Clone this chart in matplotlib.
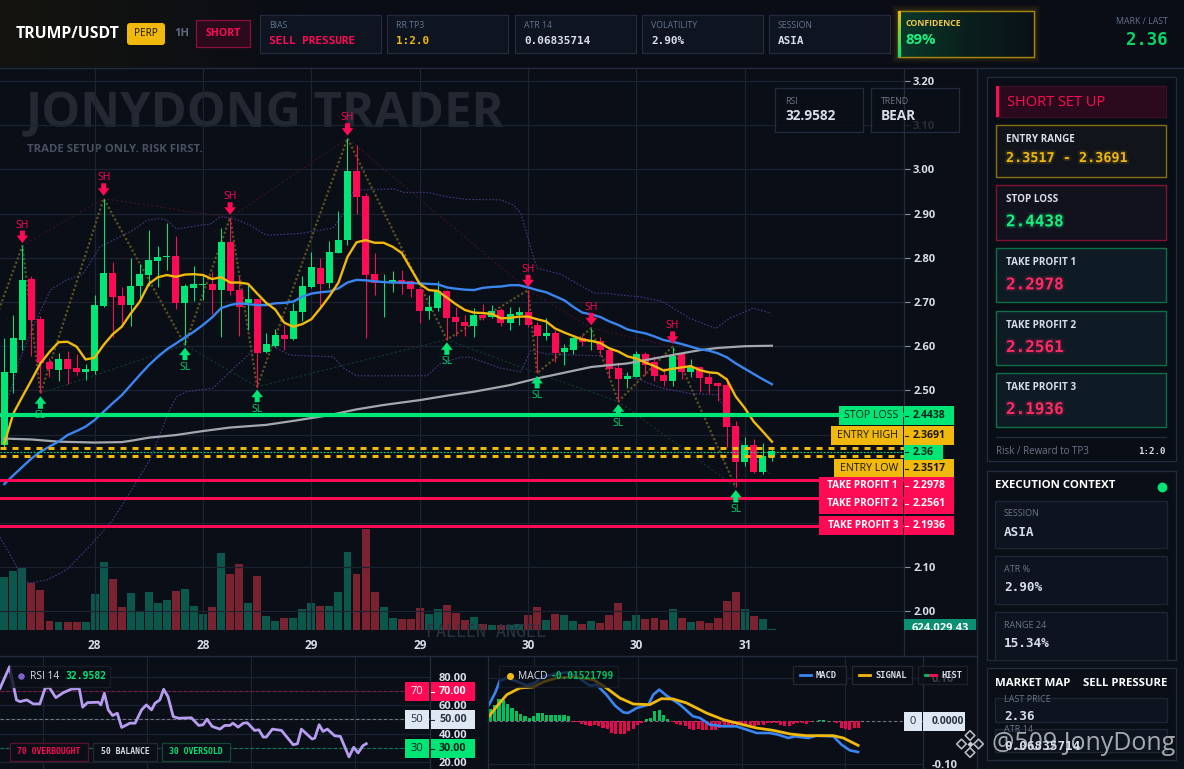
import numpy as np
import matplotlib
matplotlib.use("Agg")
import matplotlib.pyplot as plt
from matplotlib.patches import Rectangle, FancyBboxPatch
from matplotlib.colors import LinearSegmentedColormap
import matplotlib.patheffects as pe

W, H = 1184, 769

# candles, 1H
opens = [2.376,2.540,2.614,2.752,2.661,2.564,2.546,2.571,2.551,2.542,2.544,2.691,2.765,2.713,2.693,2.736,2.760,2.793,2.801,2.804,2.698,2.732,2.738,2.741,2.727,2.836,2.727,2.698,2.707,2.587,2.600,2.625,2.616,2.677,2.734,2.777,2.743,2.811,2.840,2.996,2.940,2.763,2.743,2.743,2.750,2.747,2.729,2.679,2.686,2.725,2.666,2.655,2.646,2.670,2.665,2.682,2.652,2.670,2.677,2.648,2.623,2.630,2.587,2.591,2.618,2.610,2.612,2.592,2.551,2.526,2.531,2.583,2.565,2.535,2.521,2.583,2.542,2.552,2.530,2.517,2.512,2.420,2.338,2.377,2.315,2.350]
closes = [2.541,2.618,2.750,2.659,2.562,2.548,2.571,2.548,2.541,2.548,2.693,2.765,2.711,2.693,2.736,2.763,2.795,2.802,2.804,2.698,2.736,2.741,2.741,2.727,2.836,2.725,2.689,2.707,2.585,2.605,2.625,2.616,2.679,2.736,2.779,2.741,2.813,2.840,2.996,2.937,2.761,2.743,2.744,2.750,2.741,2.730,2.679,2.689,2.725,2.664,2.655,2.646,2.670,2.664,2.679,2.652,2.673,2.677,2.648,2.623,2.630,2.585,2.596,2.618,2.609,2.613,2.592,2.549,2.526,2.533,2.583,2.558,2.533,2.521,2.578,2.542,2.552,2.528,2.515,2.510,2.417,2.338,2.377,2.315,2.352,2.362]
highs = [2.618,2.670,2.827,2.759,2.668,2.574,2.584,2.589,2.582,2.560,2.716,2.934,2.790,2.735,2.799,2.787,2.863,2.827,2.878,2.849,2.741,2.781,2.763,2.768,2.867,2.891,2.759,2.744,2.707,2.629,2.638,2.648,2.697,2.759,2.813,2.799,2.838,2.906,3.070,3.055,2.946,2.810,2.763,2.770,2.772,2.750,2.731,2.716,2.747,2.727,2.689,2.670,2.686,2.695,2.693,2.686,2.688,2.689,2.727,2.655,2.663,2.637,2.606,2.621,2.625,2.641,2.620,2.599,2.565,2.542,2.589,2.586,2.578,2.550,2.599,2.583,2.571,2.554,2.539,2.520,2.527,2.431,2.394,2.390,2.380,2.367]
lows = [2.370,2.493,2.591,2.578,2.493,2.531,2.522,2.514,2.535,2.523,2.537,2.689,2.621,2.648,2.646,2.704,2.736,2.733,2.772,2.684,2.603,2.702,2.704,2.673,2.621,2.716,2.623,2.637,2.508,2.585,2.599,2.591,2.614,2.658,2.731,2.689,2.731,2.810,2.829,2.900,2.618,2.716,2.667,2.723,2.719,2.712,2.653,2.662,2.680,2.615,2.623,2.623,2.621,2.659,2.663,2.646,2.637,2.648,2.643,2.539,2.614,2.565,2.557,2.582,2.600,2.592,2.580,2.528,2.475,2.506,2.530,2.535,2.521,2.509,2.510,2.526,2.530,2.496,2.495,2.475,2.373,2.281,2.329,2.313,2.311,2.340]
# volume in millions
volume = [22.1,24.6,26.3,19.6,16.7,3.8,3.3,3.3,3.3,3.3,15.0,28.4,21.3,9.6,15.4,7.9,15.8,11.3,12.5,16.3,17.1,10.0,6.7,9.6,32.1,23.4,27.5,11.3,22.5,5.8,3.8,5.0,5.0,8.8,11.3,10.0,10.0,15.8,32.5,23.4,42.1,15.8,9.6,5.0,4.6,4.6,9.2,6.7,8.8,10.4,7.1,4.2,5.4,2.5,2.1,2.1,1.9,2.5,6.3,9.6,4.2,6.7,6.3,3.8,2.5,3.8,2.9,6.3,11.3,3.8,6.3,4.6,5.0,4.2,8.8,5.0,3.3,3.8,2.9,5.0,12.1,15.8,8.8,5.8,4.6,0.62]

ema_fast = [2.380,2.448,2.486,2.523,2.561,2.587,2.609,2.610,2.599,2.570,2.574,2.603,2.627,2.644,2.674,2.701,2.741,2.756,2.761,2.757,2.762,2.763,2.761,2.752,2.756,2.744,2.744,2.741,2.719,2.698,2.683,2.653,2.644,2.650,2.661,2.686,2.713,2.744,2.802,2.835,2.840,2.834,2.834,2.825,2.811,2.776,2.741,2.727,2.725,2.710,2.695,2.682,2.676,2.675,2.673,2.663,2.664,2.667,2.667,2.661,2.656,2.640,2.631,2.623,2.615,2.612,2.607,2.595,2.588,2.577,2.572,2.563,2.555,2.545,2.549,2.552,2.555,2.546,2.541,2.539,2.525,2.486,2.460,2.429,2.407,2.384]
ema_slow = [2.288,2.308,2.327,2.346,2.361,2.373,2.384,2.399,2.408,2.418,2.433,2.452,2.471,2.489,2.512,2.535,2.557,2.576,2.593,2.606,2.620,2.633,2.648,2.665,2.686,2.693,2.697,2.695,2.693,2.693,2.697,2.698,2.701,2.712,2.719,2.722,2.724,2.731,2.744,2.750,2.749,2.747,2.745,2.744,2.744,2.743,2.742,2.741,2.740,2.733,2.730,2.728,2.727,2.732,2.734,2.735,2.738,2.738,2.733,2.727,2.722,2.713,2.704,2.689,2.676,2.672,2.666,2.656,2.648,2.638,2.633,2.629,2.622,2.614,2.610,2.605,2.599,2.593,2.590,2.584,2.575,2.561,2.549,2.537,2.525,2.514]
ma_long_i = [0,3,6,10,13,14,16,19,22,25,29,32,36,39,42,46,49,52,56,59,62,65,69,74,77,79,82,85]
ma_long = [2.391,2.389,2.384,2.382,2.383,2.386,2.393,2.399,2.408,2.416,2.422,2.431,2.444,2.457,2.467,2.478,2.488,2.497,2.512,2.527,2.540,2.553,2.561,2.580,2.591,2.596,2.600,2.601]

bb_up_i = [-0.5,0.6,1.7,3.2,5.1,6.9,8.7,10.6,12.1,14.3,15.8,17.2,18,19.1,21.7,22.8,23.9,25.4,27.2,29,32.7,36.4,37.6,38.7,43.1,44.2,46.8,49,51.3,55,56.4,57.2,58.7,59,61.6,65.3,66.6,68.1,70.3,72.9,75.9,78.8,80.3,82.9,84.9]
bb_up = [2.433,2.493,2.569,2.644,2.727,2.750,2.763,2.825,2.840,2.863,2.885,2.889,2.885,2.865,2.874,2.876,2.893,2.889,2.874,2.851,2.855,2.867,2.901,2.953,2.956,2.948,2.948,2.938,2.932,2.931,2.919,2.901,2.795,2.776,2.763,2.720,2.720,2.716,2.712,2.701,2.663,2.640,2.663,2.686,2.675]
bb_lo_i = [-0.5,1,2,2.8,4.7,6.9,9.8,12,13.4,16.1,18.3,19.1,20.2,23.1,25.4,27.6,29.8,31.6,32.7,36.4,37.6,39,46.8,48.3,50.5,51.6,55,57.2,58.3,60.1,66.1,68.4,70.3,72.9,75.9,79,80,81,84.7]
bb_lo = [2.168,2.116,2.071,2.064,2.071,2.094,2.155,2.207,2.252,2.342,2.456,2.486,2.497,2.505,2.550,2.591,2.599,2.580,2.579,2.576,2.550,2.533,2.533,2.561,2.575,2.575,2.550,2.542,2.591,2.582,2.578,2.539,2.524,2.505,2.493,2.490,2.448,2.395,2.312]

sh_idx = [2, 11, 25, 38, 58, 65, 74]
sl_idx = [4, 20, 28, 49, 59, 68, 81]
zz_start_i, zz_start = -1, 2.66

ticks_price = [3.20,3.10,3.00,2.90,2.80,2.70,2.60,2.50,2.40,2.30,2.20,2.10,2.00]
hidden_price = [2.40, 2.30, 2.20]
date_idx = [10,22,34,46,58,70,82]
date_lab = ["28","28","29","29","30","30","31"]

stop_loss = 2.4438
entry_high = 2.3691
entry_low = 2.3517
last_price = 2.36
tp1, tp2, tp3 = 2.2978, 2.2561, 2.1936

rsi_t = [0,2.2,3.8,4.6,6.2,7.7,9.2,10.4,11.4,12.9,14.6,16.5,18.3,19.1,20.2,22.7,23.3,24.1,25,26,27.1,28.1,30,31.2,32.7,33.8,35,35.8,36.9,37.8,38.8,40,41.2,44.2,45.9,46.9,47.8,49,50.8,51.9,53.1,53.8,55,56.2,57.1,58.8,59.8,60.8,61.5,62.9,65,67.7,68.7,69.6,72.1,72.7,73.7,74.6,75.6,77.3,78.6,80.6,81.7,82.7,83.8,84.6]
rsi = [72.0,87.2,63.8,62.6,63.8,61.0,61.0,72.0,72.5,65.4,68.9,71.5,71.8,58.7,61.9,62.2,60.3,68.5,56.8,52.8,54.4,44.4,47.4,47.4,56.8,60.3,56.8,61.5,63.8,71.3,66.1,52.1,50.9,51.2,45.8,46.3,50.2,45.1,43.2,45.8,45.8,47.4,44.6,47.4,47.7,42.3,42.7,37.6,37.6,43.2,42.3,32.2,32.9,43.2,36.2,36.9,46.3,41.6,43.2,38.5,38.1,23.6,30.4,26.4,31.5,32.9]
rsi_ticks = [80,70,60,50,40,30,20]
rsi_tagged = [70,50,30]

# macd values in 1e-3
hist = [27.1,36.4,50.4,48.1,38.8,29.5,22.5,15.5,10.9,6.2,10.9,18.6,18.6,14.0,13.2,13.2,13.2,13.2,10.9,-1.6,-2.3,-7.8,-10.1,-11.6,-8.5,-11.6,-17.1,-19.4,-27.9,-31.0,-31.0,-31.0,-24.0,-18.6,-8.5,-4.7,3.9,7.0,22.5,24.8,13.2,3.9,-2.3,-7.0,-8.5,-11.6,-18.6,-20.2,-18.6,-20.2,-20.2,-20.2,-20.2,-17.1,-14.0,-14.0,-11.6,-10.1,-9.3,-8.5,-8.5,-10.9,-10.1,-8.5,-4.7,-3.9,-3.9,-9.3,-10.9,-10.9,-6.2,-3.9,-4.7,-6.2,-2.3,-0.8,3.1,2.3,-0.8,-0.8,-5.4,-15.5,-18.6,-20.2,-17.1,-15.5]
macd_k = [-0.3,1.1,2.2,3.8,6.1,8.4,10.3,12.2,14.5,17.6,19.9,23,24.5,26.8,28.8,30.7,31.8,33.8,36.5,37.6,39,40.7,43.8,46.8,48.4,50.7,53.8,56.8,59.2,61.5,64.5,66.5,68.8,70.3,73.4,75.3,79.2,81.1,83,84.9]
macd = [38,65.1,93.8,100,92.2,82.9,88.4,103.9,107.7,113.2,103.9,82.2,84.5,61.2,35.7,20.2,18.6,30.2,38,61.2,72.9,58.9,38,10.9,7,-8.5,-12.4,-12.4,-20.2,-27.9,-27.9,-31.8,-39.5,-35.7,-39.5,-34.1,-35.7,-55,-68.2,-72.1]
signal_k = [-0.3,1.5,3.8,6.8,9.9,12.2,15.3,19.2,23.8,26.8,29.9,33,36.8,39.5,42.2,45.3,49.9,53.8,56.8,61.5,65.3,69.2,73,79.2,81.5,84.9]
signal = [10.9,34.1,61.2,76.7,79.1,90.7,100,102.3,96.1,76.7,53.5,39.5,38,51.9,51.2,41.9,18.6,3.1,-4.7,-16.3,-21.7,-30.2,-34.1,-34.1,-39.5,-56.6]

BG = "#0a0e17"
HEAD = "#0a0d15"
SIDE = "#0b101a"
GRID = "#1c2230"
BORDER = "#232c3d"
GREEN = "#00e676"
RED = "#ff0a54"
YEL = "#f0b90b"
BLUE = "#3a86f0"
TXT = "#d8dee9"
DIM = "#6b7688"
SANS = ["Open Sans", "DejaVu Sans"]
MONO = ["DejaVu Sans Mono"]

plt.rcParams["font.family"] = SANS
fig = plt.figure(figsize=(W / 100, H / 100), dpi=100, facecolor=BG)


def pane(x0, y0, x1, y1, z=1):
    return fig.add_axes([x0 / W, 1 - y1 / H, (x1 - x0) / W, (y1 - y0) / H], zorder=z)


def style(a):
    a.set_facecolor(BG)
    for s in a.spines.values():
        s.set_visible(False)
    a.grid(True, color=GRID, lw=0.9)
    a.set_axisbelow(True)


# volume sits behind the price axes
vol = pane(0, 68, 904, 630, 1)
ax = pane(0, 68, 904, 630, 2)
vol.set_facecolor(BG)
ax.set_facecolor("none")
for a in (vol, ax):
    for s in a.spines.values():
        s.set_visible(False)
x = np.arange(len(opens))
xlim = (-0.48, 99.63)
ylim = (1.9579, 3.2294)

o, c, hi, lo = map(np.array, (opens, closes, highs, lows))
up = c >= o
vol.bar(x, volume, width=0.88, color=np.where(up, "#0b574c", "#7a2230"), linewidth=0)
vol.set_xlim(xlim)
vol.set_ylim(0, 234.4)
vol.set_xticks([])
vol.set_yticks([])

ax.set_xlim(xlim)
ax.set_ylim(ylim)
ax.yaxis.tick_right()
ax.set_yticks(ticks_price)
ax.set_yticklabels(["" if p in hidden_price else f"{p:.2f}" for p in ticks_price],
                   fontsize=8.0, fontweight="bold", color=TXT)
ax.tick_params(axis="y", length=4, width=0.8, color="#8a93a3", pad=2.5)
ax.set_xticks(date_idx)
ax.set_xticklabels(date_lab, fontsize=8.5, fontweight="bold", color=TXT)
ax.tick_params(axis="x", length=0, pad=6.5)
ax.grid(True, color=GRID, lw=0.9)
ax.set_axisbelow(True)

# moving bands and swing lines under the candles
ax.plot(bb_up_i, bb_up, color="#463880", lw=0.8, ls=(0, (1.5, 1.5)), zorder=2)
ax.plot(bb_lo_i, bb_lo, color="#463880", lw=0.8, ls=(0, (1.5, 1.5)), zorder=2)
ax.plot(sh_idx, hi[sh_idx], color="#3d1228", lw=0.8, ls=(0, (2, 2)), zorder=2)
ax.plot(sl_idx, lo[sl_idx], color="#0f3b30", lw=0.8, ls=(0, (2, 2)), zorder=2)
pivots = sorted([(i, hi[i]) for i in sh_idx] + [(i, lo[i]) for i in sl_idx])
zz_x = [zz_start_i] + [p[0] for p in pivots]
zz_y = [zz_start] + [p[1] for p in pivots]
ax.plot(zz_x, zz_y, color="#5c5120", lw=1.6, ls=(0, (1, 1)), zorder=2.2)

candle_col = np.where(up, GREEN, RED)
ax.vlines(x, lo, hi, colors=candle_col, lw=0.75, zorder=3)
ax.bar(x, np.maximum(np.abs(c - o), 0.003), bottom=np.minimum(o, c), width=0.775,
       color=candle_col, linewidth=0, zorder=3.2)

ax.plot(ma_long_i, ma_long, color="#a3a7ae", lw=1.6, zorder=4)
ax.plot(x, ema_slow, color=BLUE, lw=1.7, zorder=4.1)
ax.plot(x, ema_fast, color=YEL, lw=1.7, zorder=4.2)

# levels
ax.axhline(stop_loss, color=GREEN, lw=3.0, zorder=5)
for p in (tp1, tp2, tp3):
    ax.axhline(p, color=RED, lw=2.16, zorder=5)
for p in (entry_high, entry_low):
    ax.axhline(p, color=YEL, lw=2.16, ls=(0, (2, 2)), zorder=5)
ax.axhline(last_price, color=GREEN, lw=0.8, ls=(0, (1.5, 1.5)), zorder=5)

# swing markers
for i in sh_idx:
    ax.annotate("", xy=(i, hi[i]), xytext=(0, 11), textcoords="offset points",
                arrowprops=dict(arrowstyle="simple,head_width=0.7,head_length=0.45,tail_width=0.3",
                                color=RED, shrinkA=0, shrinkB=2, mutation_scale=12, lw=0), zorder=6)
    ax.annotate("SH", xy=(i, hi[i]), xytext=(0, 15), textcoords="offset points", ha="center",
                va="center", fontsize=7.6, color=RED, zorder=6)
for i in sl_idx:
    ax.annotate("", xy=(i, lo[i]), xytext=(0, -11), textcoords="offset points",
                arrowprops=dict(arrowstyle="simple,head_width=0.7,head_length=0.45,tail_width=0.3",
                                color=GREEN, shrinkA=0, shrinkB=2, mutation_scale=12, lw=0), zorder=6)
    ax.annotate("SL", xy=(i, lo[i]), xytext=(0, -16), textcoords="offset points", ha="center",
                va="center", fontsize=7.6, color="#00d26a", zorder=6)

# RSI pane
r = pane(0, 657, 430, 769, 3)
style(r)
r.set_xlim(0, 430 / 4.33)
r.set_ylim(15.07, 94.1)
r.yaxis.tick_right()
r.set_yticks(rsi_ticks)
r.set_yticklabels(["" if v in rsi_tagged else f"{v:.2f}" for v in rsi_ticks],
                  fontsize=8.0, fontweight="bold", color=TXT)
r.tick_params(axis="y", length=0, pad=6)
r.set_xticks([10, 34, 58, 82])
r.set_xticklabels([])
r.tick_params(axis="x", length=0)
r.axhline(70, color="#7d1a40", lw=0.8, ls=(0, (3, 2)))
r.axhline(50, color="#6d7482", lw=0.8, ls=(0, (3, 2)))
r.axhline(30, color="#0f7a4c", lw=0.8, ls=(0, (3, 2)))
r.plot(rsi_t, rsi, color="#b79df0", lw=2.0, solid_joinstyle="round")

# MACD pane
m = pane(488, 657, 923, 769, 3)
style(m)
m.set_xlim(-0.54, 99.9)
m.set_ylim(-111.6, 148.8)
m.yaxis.tick_right()
m.set_yticks([100, -100])
m.set_yticklabels(["0.10", "-0.10"], fontsize=8.0, fontweight="bold", color=TXT)
m.tick_params(axis="y", length=0, pad=6)
m.set_xticks([10, 34, 58, 82])
m.set_xticklabels([])
m.tick_params(axis="x", length=0)
m.axhline(0, color="#6d7482", lw=0.8, ls=(0, (3, 2)))
k = np.arange(len(hist))
m.bar(k, hist, width=0.72, color=np.where(np.array(hist) >= 0, "#00c060", "#e8084f"), linewidth=0, zorder=2)
m.plot(macd_k, macd, color=BLUE, lw=1.9, zorder=3)
m.plot(signal_k, signal, color=YEL, lw=2.0, zorder=4)

# chrome overlay in pixel coords
ov = fig.add_axes([0, 0, 1, 1], zorder=10)
ov.set_facecolor("none")
ov.set_xlim(0, W)
ov.set_ylim(H, 0)
ov.axis("off")


def box(x0, y0, x1, y1, fc="none", ec="none", lw=0.9, alpha=None, z=1):
    ov.add_patch(Rectangle((x0, y0), x1 - x0, y1 - y0, fc=fc, ec=ec, lw=lw, alpha=alpha, zorder=z))


def txt(x, y, s, size=7, color=TXT, mono=False, bold=False, ha="left", z=5, **kw):
    return ov.text(x, y, s, fontsize=size, color=color, family=MONO if mono else SANS,
                   fontweight="bold" if bold else "normal", ha=ha, va="center", zorder=z, **kw)


def glow(t, color, w=3, a=0.25):
    t.set_path_effects([pe.withStroke(linewidth=w, foreground=color, alpha=a)])


# header
grad = LinearSegmentedColormap.from_list("h", ["#15140f", HEAD])
ov.imshow(np.linspace(0, 1, 256)[None, :], extent=(0, 300, 67, 0), cmap=grad, aspect="auto", zorder=0)
box(300, 0, W, 67, fc=HEAD, z=0)
ov.plot([0, W], [67.5, 67.5], color=BORDER, lw=1, zorder=1)
ov.set_xlim(0, W)
ov.set_ylim(H, 0)
txt(16, 34, "TRUMP/USDT", 11.3, "white", bold=True)
ov.add_patch(FancyBboxPatch((127, 23), 38, 22, boxstyle="round,pad=0,rounding_size=3", fc=YEL, ec="none", zorder=2))
txt(146, 34, "PERP", 7.2, "#151515", ha="center")
txt(174, 34, "1H", 8, "#5b6b84", bold=True)
box(196, 20, 250, 47, fc="#2b0a1c", ec="#8c0f3c")
txt(223, 34, "SHORT", 7.6, RED, ha="center", bold=True)

cards = [(260, "BIAS", "SELL PRESSURE", RED), (387, "RR TP3", "1:2.0", YEL),
         (515, "ATR 14", "0.06835714", TXT), (642, "VOLATILITY", "2.90%", TXT),
         (769, "SESSION", "ASIA", TXT)]
for cx, lab, val, col in cards:
    box(cx, 15, cx + 120.5, 53, fc="#0e1420", ec=BORDER)
    txt(cx + 9, 26, lab, 6.3, "#64748f")
    txt(cx + 9, 40.5, val, 7.9, col, mono=True, bold=True)

# confidence card
for g, a in ((6, 0.03), (4, 0.05), (2, 0.07)):
    box(898 - g, 11 - g, 1034 + g, 57 + g, fc=YEL, alpha=a, z=1)
cf = LinearSegmentedColormap.from_list("c", ["#0a3a2a", "#09201c", "#0a1118"])
ov.imshow(np.linspace(0, 1, 256)[None, :], extent=(898, 1034, 57, 11), cmap=cf, aspect="auto", zorder=2)
ov.set_xlim(0, W)
ov.set_ylim(H, 0)
box(898, 11, 1034, 57, ec="#a8860e", lw=1, z=3)
bar = LinearSegmentedColormap.from_list("b", [YEL, GREEN])
ov.imshow(np.linspace(0, 1, 64)[:, None], extent=(898, 901, 57, 11), cmap=bar, aspect="auto", zorder=3)
ov.set_xlim(0, W)
ov.set_ylim(H, 0)
txt(906, 23, "CONFIDENCE", 6.3, "#f3c94a", bold=True)
txt(906, 40, "89%", 10.7, "#19f080", bold=True)
txt(1167.5, 22, "MARK / LAST", 6.3, "#64748f", ha="right")
txt(1167.5, 40, "2.36", 12.4, "#00d86a", mono=True, bold=True, ha="right")

# watermarks stay behind the candles
vol.text(26, 115, "JONYDONG TRADER", fontsize=35.2, color="#232833", fontweight="bold", va="center",
         transform=ov.transData, clip_on=False, zorder=5)
vol.text(27, 149, "TRADE SETUP ONLY. RISK FIRST.", fontsize=8.2, color="#4a5060", fontweight="bold", va="center",
         transform=ov.transData, clip_on=False, zorder=5)
txt(426, 632, "FALLEN ANGEL", 12, "#2c3340", mono=True, z=0.5)

# small stat boxes over the chart
for x0, x1, lab, val in ((775, 863, "RSI", "32.9582"), (871, 959, "TREND", "BEAR")):
    box(x0, 88, x1, 131.5, fc=BG, alpha=0.85)
    box(x0, 88, x1, 131.5, ec=BORDER)
    txt(x0 + 10, 101, lab, 6.3, DIM)
    txt(x0 + 10, 116, val, 9.8, TXT, bold=True)

# axis borders
ov.plot([904, 904], [68, 656], color=BORDER, lw=0.9, zorder=1)
ov.plot([0, 977], [656, 656], color=BORDER, lw=1, zorder=1)
ov.plot([430, 430], [657, 769], color=BORDER, lw=0.9, zorder=1)
ov.plot([488, 488], [657, 769], color=BORDER, lw=0.9, zorder=1)
ov.plot([923, 923], [657, 769], color=BORDER, lw=0.9, zorder=1)

# price tags
tags = [("STOP LOSS", stop_loss, 415.5, 839, GREEN, "#06251a"),
        ("ENTRY HIGH", entry_high, 435.5, 831, YEL, "#1c1703"),
        ("ENTRY LOW", entry_low, 468.5, 834, YEL, "#1c1703"),
        ("TAKE PROFIT 1", tp1, 486, 819, RED, "white"),
        ("TAKE PROFIT 2", tp2, 504, 819, RED, "white"),
        ("TAKE PROFIT 3", tp3, 525.5, 819, RED, "white")]
for name, val, yc, left, col, tc in tags:
    box(left, yc - 9.5, 903.2, yc + 9.5, fc=col, z=3)
    box(904.3, yc - 9.5, 954, yc + 9.5, fc=col, z=3)
    txt(898, yc, name, 7.2 if tc == "white" else 7.7, tc, ha="right", bold=tc == "white")
    txt(913, yc, f"{val:.4f}", 7.6, tc, bold=True)
    ov.plot([904.5, 908], [yc, yc], color=tc, lw=0.8, zorder=4)
box(904.3, 445, 943, 460, fc=GREEN, z=3)
txt(913, 452.3, f"{last_price:.2f}", 7.6, "#06251a", bold=True)
ov.plot([904.5, 908], [452.3, 452.3], color="#06251a", lw=0.8, zorder=4)

# volume last tag, clipped by the pane edge
box(904, 619, 976, 630, fc="#0a8f72", z=3)
vt = txt(940, 628, "624,029.43", 8, "white", ha="center", bold=True)
vt.set_clip_path(Rectangle((904, 619), 72, 11, transform=ov.transData))
vt.set_clip_on(True)

# RSI legend and level tags
box(10, 666, 110, 687, fc=BG, ec="#1c2230", alpha=0.8, z=2)
ov.scatter([21], [676], s=22, color="#7e62c8", zorder=4, linewidths=0)
txt(30, 676.5, "RSI 14", 7.4, TXT)
txt(65, 676, "32.9582", 7, GREEN, mono=True, bold=True)
for x0, x1, lab, col, ec in ((10, 88, "70 OVERBOUGHT", RED, "#5a1230"), (93, 157, "50 BALANCE", TXT, "#232833"),
                             (162, 230, "30 OVERSOLD", GREEN, "#0e4a34")):
    box(x0, 743, x1, 761, fc=BG, ec=ec, z=2)
    txt((x0 + x1) / 2, 752, lab, 5.9, col, mono=True, bold=True, ha="center")
for lvl, yc, col, tc in ((70, 691.5, RED, "white"), (50, 719.5, "#dfe7f2", "#2a3140"), (30, 748.5, GREEN, "#06251a")):
    box(405, yc - 9.5, 429, yc + 9.5, fc=col, z=3)
    box(430.5, yc - 9.5, 475, yc + 9.5, fc=col, z=3)
    txt(417, yc, str(lvl), 8, tc, ha="center")
    txt(439, yc, f"{lvl:.2f}", 7.7, tc, bold=True)
    ov.plot([431, 434], [yc, yc], color=tc, lw=0.8, zorder=4)

# MACD legend and tags
box(499, 666, 618, 687, fc=BG, ec="#1c2230", alpha=0.72, z=2)
ov.scatter([510], [676], s=26, color=YEL, zorder=4, linewidths=0)
txt(518, 676.5, "MACD", 7.4, TXT)
txt(551, 676, "-0.01521799", 6.9, "#00c060", mono=True, bold=True)
box(793, 666, 846, 684, fc=BG, ec="#232833", z=2)
ov.plot([800, 811], [675, 675], color=BLUE, lw=2, zorder=4)
txt(816, 675, "MACD", 6.3, TXT, mono=True, bold=True)
box(852, 666, 912, 684, fc=BG, ec="#232833", z=2)
ov.plot([859, 870], [675, 675], color=YEL, lw=2, zorder=4)
txt(875, 675, "SIGNAL", 6.3, TXT, mono=True, bold=True)
box(918, 666, 967, 684, fc=BG, ec="#232833", alpha=0.75, z=2)
ov.plot([925, 930], [675, 675], color="#00c060", lw=2, zorder=4)
ov.plot([930, 936], [675, 675], color=RED, lw=2, zorder=4)
txt(941, 675, "HIST", 6.3, TXT, mono=True, bold=True)
box(904, 712, 922, 731, fc="#dfe7f2", z=3)
box(923, 712, 965, 731, fc="#dfe7f2", z=3)
txt(913, 721.5, "0", 8, "#2a3140", ha="center")
txt(932, 721.5, "0.0000", 7.4, "#2a3140", bold=True)

# right column
box(977, 68, W, H, fc=SIDE, z=0.5)
ov.plot([977, 977], [68, H], color=BORDER, lw=0.9, zorder=1)
box(986.5, 76.5, 1175.5, 461, fc="#090d15", ec=BORDER)
box(996, 86, 1166, 117, fc="#2a0a1c", ec="#3d0f25", z=2)
box(996, 86, 999, 117, fc=RED, z=3)
txt(1007, 102, "SHORT SET UP", 10.5, RED)
side_cards = [(125, 176.7, "ENTRY RANGE", "2.3517 - 2.3691", YEL, "#8a6f10", "#11141a", 9.7, 33.5),
              (185.3, 239.7, "STOP LOSS", "2.4438", "#19f080", "#801232", "#12121e", 11.5, 36.5),
              (248.3, 302, "TAKE PROFIT 1", "2.2978", "#ff2a64", "#0e6e48", "#0e1a24", 11.5, 36.5),
              (311, 364.7, "TAKE PROFIT 2", "2.2561", "#ff2a64", "#0e6e48", "#0e1a24", 11.5, 36.5),
              (373, 427, "TAKE PROFIT 3", "2.1936", "#ff2a64", "#0e6e48", "#0e1a24", 11.5, 36.5)]
for y0, y1, lab, val, col, ec, fc, vs, dy in side_cards:
    box(996, y0, 1166, y1, fc=fc, ec=ec, lw=1, z=2)
    txt(1006, y0 + 14.5, lab, 7.1, TXT, bold=True)
    t = txt(1006, y0 + dy, val, vs, col, mono=True, bold=True)
    glow(t, col, 3, 0.12)
ov.plot([996, 1166], [436.5, 436.5], color=BORDER, lw=0.9, zorder=2)
txt(996, 451, "Risk / Reward to TP3", 7, DIM)
txt(1166, 451, "1:2.0", 6.6, TXT, mono=True, bold=True, ha="right")

box(986.5, 471, 1175.5, 659.5, fc="#0a0f17", ec=BORDER)
txt(995, 486, "EXECUTION CONTEXT", 8.2, "white", bold=True)
ov.scatter([1162], [486.5], s=50, color=GREEN, zorder=4, linewidths=0)
exec_rows = [(501, 548, "SESSION", "ASIA"), (556, 604, "ATR %", "2.90%"), (612, 659.5, "RANGE 24", "15.34%")]
for y0, y1, lab, val in exec_rows:
    box(995, y0, 1167, y1, fc="#0e141f", ec="#1e2533", z=2)
    txt(1004, y0 + 13, lab, 6.5, DIM)
    txt(1004, y0 + 31.5, val, 9.2, TXT, mono=True, bold=True)

box(986.5, 668, 1175.5, 760, fc="#0a0f17", ec=BORDER)
txt(995, 683, "MARKET MAP", 8.2, "white", bold=True)
txt(1167, 683, "SELL PRESSURE", 8.2, "white", bold=True, ha="right")
box(995, 698, 1167, 722, fc="#0e141f", ec="#1e2533", z=2)
box(995, 729, 1167, 752, fc="#0e141f", ec="#1e2533", z=2)
txt(1004, 699, "LAST PRICE", 6.5, DIM)
txt(1004, 716.7, "2.36", 9.2, TXT, mono=True, bold=True)
txt(1004, 729.5, "ATR 14", 6.5, DIM)
txt(1004, 746.7, "0.06835714", 9.2, TXT, mono=True, bold=True)

# source stamp
for dx, dy, s in ((0, -8.5, 24), (8.5, 0, 24), (0, 8.5, 24), (-8.5, 0, 24)):
    ov.scatter([970 + dx], [744 + dy], marker="D", s=s, facecolor="none", edgecolor="#c8ccd2", lw=1.2, zorder=8, alpha=0.9)
ov.scatter([970], [744], marker="D", s=10, color="#c8ccd2", zorder=8, linewidths=0)
t = txt(992, 743, "@509 JonyDong", 18, "#d8dbe0", z=8, alpha=0.75)

fig.savefig("out.png", dpi=100, facecolor=BG)
